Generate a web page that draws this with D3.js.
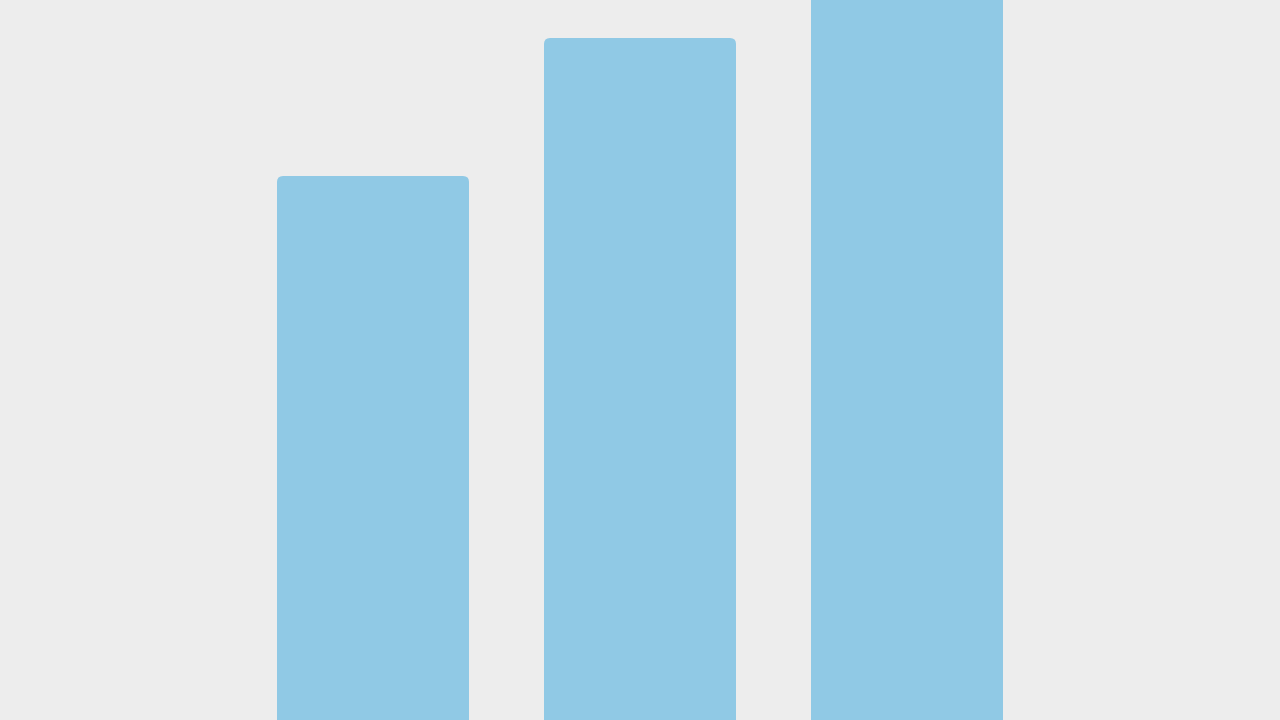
<!DOCTYPE html>
<html><head><meta charset="utf-8">
<script src="https://cdn.jsdelivr.net/npm/d3@7"></script>
<style>html,body{margin:0;padding:0;background:#ededed;overflow:hidden}</style>
</head><body>
<svg id="c" width="1280" height="720"></svg>
<script>
const categories = ["A", "B", "C"];
const values = [4, 5, 6];

const svg = d3.select("#c");
svg.append("rect").attr("width",1280).attr("height",720).attr("fill","#ededed");

const x = d3.scaleBand().domain(categories).range([277, 1003]).paddingInner(75/267).paddingOuter(0);
const y = d3.scaleLinear().domain([0, 5]).range([728, 38]);

const r = 6;
function barPath(d, i) {
  const x0 = x(categories[i]), w = x.bandwidth(), y0 = y(d), yb = y(0);
  return `M${x0},${yb}V${y0 + r}Q${x0},${y0} ${x0 + r},${y0}H${x0 + w - r}Q${x0 + w},${y0} ${x0 + w},${y0 + r}V${yb}Z`;
}
svg.selectAll("path.bar").data(values).join("path")
  .attr("class","bar")
  .attr("d", barPath)
  .attr("fill", "#90c9e5");
</script>
</body></html>
